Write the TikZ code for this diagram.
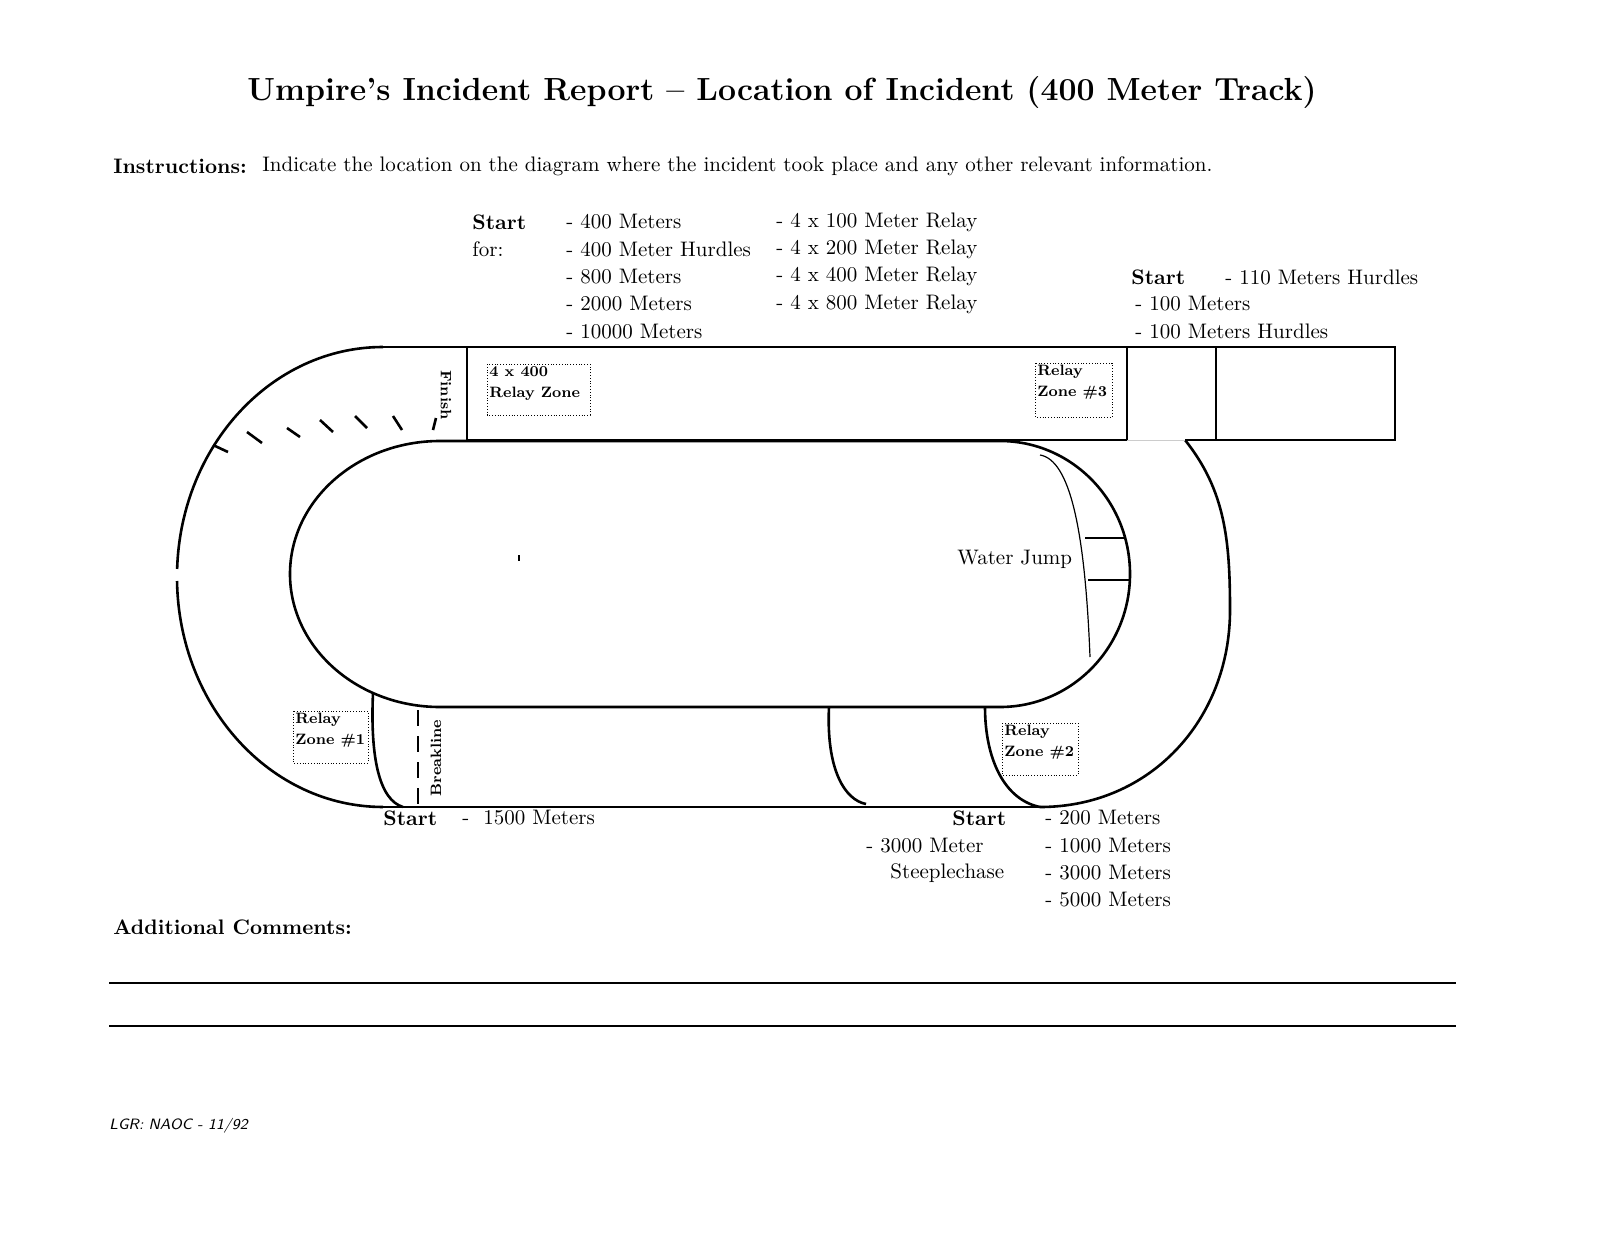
\documentclass[tikz,border=0pt]{standalone}
\begin{document}
\begin{tikzpicture}[x=0.5pt,y=-0.5pt,
  trk/.style={line width=1.3pt},
  thin/.style={line width=0.6pt},
  zone/.style={draw,densely dotted,line width=0.4pt},
  t/.style={anchor=west,inner sep=0pt,font=\fontsize{10.5}{12}\selectfont},
  tb/.style={t,font=\fontsize{10.5}{12}\selectfont\bfseries},
  zt/.style={anchor=north west,inner sep=1pt,align=left,font=\fontsize{7.5}{10.5}\selectfont\bfseries}]
\useasboundingbox (0,0) rectangle (1600,1236);
% title
\node[font=\fontsize{16}{18}\selectfont\bfseries] (title) at (782,93) {Umpire's Incident Report -- Location of Incident (400 Meter Track)};
\node[tb] (ins) at (113,166) {Instructions:};
\node[t] (inst) at (262,166) {Indicate the location on the diagram where the incident took place and any other relevant information.};
% start top
\node[tb] (s1) at (472,222) {Start};
\node[t] (s1f) at (472,249) {for:};
\foreach \i/\s in {0/- 400 Meters,1/- 400 Meter Hurdles,2/- 800 Meters,3/- 2000 Meters,4/- 10000 Meters}
  \node[t] (a\i) at (566,222+27.3*\i) {\s};
\foreach \i/\s in {0/- 4 x 100 Meter Relay,1/- 4 x 200 Meter Relay,2/- 4 x 400 Meter Relay,3/- 4 x 800 Meter Relay}
  \node[t] (b\i) at (776,222+27.3*\i) {\s};
\node[tb] (s2) at (1131,277) {Start};
\node[t] (c0) at (1225,277) {- 110 Meters Hurdles};
\node[t] (c1) at (1135,304) {- 100 Meters};
\node[t] (c2) at (1135,331) {- 100 Meters Hurdles};
% track outer
\draw[trk] (383,347) -- (1395,347) -- (1395,440) -- (1185,440);
\draw[trk] (383,347) arc[start angle=-90,end angle=-178,x radius=206,y radius=230];
\draw[trk] (177.03,581) arc[start angle=179,end angle=90,x radius=206,y radius=230];
\draw[trk] (383,807) -- (1040,807);
\draw[trk] (1185,440) .. controls (1225,490) and (1230,540) .. (1230,610)
  .. controls (1230,720) and (1150,807) .. (1040,807);
\draw[trk] (467,347) -- (467,440) -- (1127,440);
\draw[trk] (1127,347) -- (1127,440);
\draw[trk] (1216,347) -- (1216,440);
\draw[line width=0.4pt,gray!40] (1127,440) -- (1185,440);
% inner oval
\draw[trk] (440,441) -- (1000,441) arc[start angle=-90,end angle=90,x radius=130,y radius=133] -- (440,707)
  arc[start angle=90,end angle=270,x radius=150,y radius=133];
% stagger marks
\foreach \a/\b/\c/\d in {213/445/228/452,247/432/262/443,287/428/300/437,320/420/333/432,355/416/367/428,393/416/402/430,436/418/433/430}
  \draw[trk] (\a,\b) -- (\c,\d);
\node[rotate=-90,font=\fontsize{7.5}{9}\selectfont\bfseries] (fin) at (446,395) {Finish};
% bottom curves
\draw[trk] (373,693) .. controls (370,760) and (380,800) .. (403,807);
\draw[trk,dash pattern=on 8pt off 5pt] (418,710) -- (418,807);
\node[rotate=90,font=\fontsize{7.5}{9}\selectfont\bfseries] (brk) at (436,758) {Breakline};
\draw[trk] (829,707) .. controls (826,770) and (845,800) .. (866,804);
\draw[trk] (985,707) .. controls (985,760) and (1005,800) .. (1040,807);
% water jump
\draw[thin] (1040,455) .. controls (1070,460) and (1085,530) .. (1090,657);
\draw[thin] (1085,538) -- (1125,538);
\draw[thin] (1088,580) -- (1129,580);
\node[t] (wj) at (957,559) {Water Jump};
\draw[thin] (519,555) -- (519,561);
% relay zones
\draw[zone] (487,364) rectangle (590,415);
\node[zt] (z4) at (487,364) {4 x 400\\Relay Zone};
\draw[zone] (1035,363) rectangle (1112,417);
\node[zt] (z3) at (1035,363) {Relay\\Zone \#3};
\draw[zone] (293,711) rectangle (368,763);
\node[zt] (z1) at (293,711) {Relay\\Zone \#1};
\draw[zone] (1002,723) rectangle (1078,775);
\node[zt] (z2) at (1002,723) {Relay\\Zone \#2};
% bottom texts
\node[tb] (s3) at (383,818) {Start};
\node[t] (d0) at (462,818) {-~~1500 Meters};
\node[tb] (s4) at (952,818) {Start};
\node[t] (e0) at (866,846) {- 3000 Meter};
\node[t] (e1) at (890,873) {Steeplechase};
\foreach \i/\s in {0/- 200 Meters,1/- 1000 Meters,2/- 3000 Meters,3/- 5000 Meters}
  \node[t] (f\i) at (1045,818+27.3*\i) {\s};
\node[tb] (ac) at (113,927) {Additional Comments:};
\draw[line width=0.9pt] (109,983) -- (1456,983);
\draw[line width=0.9pt] (109,1026) -- (1456,1026);
\node[anchor=west,inner sep=0pt,font=\fontsize{7.5}{9}\selectfont\sffamily\itshape] (lgr) at (109,1126) {LGR: NAOC - 11/92};
\end{tikzpicture}
\end{document}
